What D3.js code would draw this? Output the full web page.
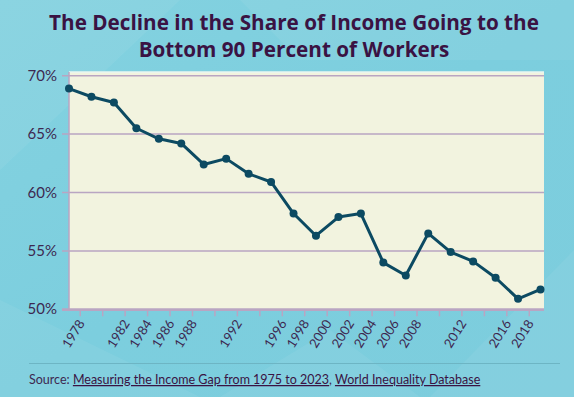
<!DOCTYPE html>
<html>
<head>
<meta charset="utf-8">
<script src="https://cdn.jsdelivr.net/npm/d3@7"></script>
<style>
  html, body { margin: 0; padding: 0; }
  body { width: 574px; height: 397px; overflow: hidden; }
</style>
</head>
<body>
<div id="chart"></div>
<script>
// adatok: also 90% jovedelemreszesedese (%)
const years = [1977, 1979, 1981, 1983, 1985, 1987, 1989, 1991, 1993, 1995, 1997,
               1999, 2001, 2003, 2005, 2007, 2009, 2011, 2013, 2015, 2017, 2019];
const shares = [68.9, 68.2, 67.7, 65.5, 64.6, 64.2, 62.4, 62.9, 61.6, 60.9, 58.2,
                56.3, 57.9, 58.2, 54.0, 52.9, 56.5, 54.9, 54.1, 52.7, 50.9, 51.7];
const tickYears = [1978, 1980, 1982, 1984, 1986, 1988, 1990, 1992, 1994, 1996, 1998,
                   2000, 2002, 2004, 2006, 2008, 2010, 2012, 2014, 2016, 2018];
const labelYears = [1978, 1982, 1984, 1986, 1988, 1992, 1996, 1998, 2000, 2002,
                    2004, 2006, 2008, 2012, 2016, 2018];
const yTicks = [50, 55, 60, 65, 70];
const titleLines = ["The Decline in the Share of Income Going to the", "Bottom 90 Percent of Workers"];

const width = 574, height = 397;
const plotLeft = 69, plotRight = 544, plotTop = 72, plotBottom = 309;
const fontMain = "Lato, 'Open Sans', sans-serif";
const textColor = "#3d2850";

const svg = d3.select("#chart").append("svg")
  .attr("width", width)
  .attr("height", height);

// hatter: teal szinatmenet
const defs = svg.append("defs");
const grad = defs.append("linearGradient")
  .attr("id", "bg").attr("x1", 0).attr("y1", 0).attr("x2", 1).attr("y2", 1);
grad.append("stop").attr("offset", "0%").attr("stop-color", "#84d2e0");
grad.append("stop").attr("offset", "50%").attr("stop-color", "#7ccede");
grad.append("stop").attr("offset", "100%").attr("stop-color", "#7dcddd");
svg.append("rect").attr("width", width).attr("height", height).attr("fill", "url(#bg)");

// halvany atlos foltok
const shapes = [
  [[0, 0], [180, 0], [0, 170]],
  [[0, 300], [200, 397], [0, 397]],
  [[240, 0], [574, 0], [574, 60], [300, 60]],
  [[430, 397], [574, 250], [574, 397]],
  [[220, 397], [330, 330], [420, 397]]
];
svg.selectAll("polygon.deco")
  .data(shapes)
  .enter()
  .append("polygon")
  .attr("class", "deco")
  .attr("points", d => d.map(p => p.join(",")).join(" "))
  .attr("fill", "#ffffff")
  .attr("opacity", 0.06);

// cim
const title = svg.append("g").selectAll("text")
  .data(titleLines)
  .enter()
  .append("text")
  .attr("x", 294)
  .attr("y", (d, i) => 30 + i * 27)
  .attr("text-anchor", "middle")
  .attr("font-family", "'Open Sans', Lato, sans-serif")
  .attr("font-weight", 700)
  .attr("font-size", "20px")
  .attr("fill", "#3a1343")
  .text(d => d);
// betumeret igazitasa az elso sor szelessegehez (~493px)
const w0 = title.node().getComputedTextLength();
title.attr("font-size", Math.min(21, 20 * 490 / w0) + "px");

// skalak
const x = d3.scaleLinear().domain([1977, 2019]).range([69, 540.5]);
const y = d3.scaleLinear().domain([50, 70]).range([309.3, 75.7]);

// rajzterulet
svg.append("rect")
  .attr("x", plotLeft)
  .attr("y", plotTop)
  .attr("width", plotRight - plotLeft)
  .attr("height", plotBottom - plotTop)
  .attr("fill", "#f2f3df");
svg.append("line")
  .attr("x1", plotLeft).attr("x2", plotRight)
  .attr("y1", plotTop).attr("y2", plotTop)
  .attr("stroke", "#e8f6f2").attr("stroke-width", 1.5);

// y racs
const gy = svg.append("g");
gy.selectAll("line")
  .data(yTicks)
  .enter()
  .append("line")
  .attr("x1", 62)
  .attr("x2", plotRight)
  .attr("y1", d => y(d))
  .attr("y2", d => y(d))
  .attr("stroke", "#b9a5c2")
  .attr("stroke-width", 1.5);
gy.selectAll("text")
  .data(yTicks)
  .enter()
  .append("text")
  .attr("x", 57)
  .attr("y", d => y(d) + 5)
  .attr("text-anchor", "end")
  .attr("font-family", fontMain)
  .attr("font-size", "15px")
  .attr("fill", textColor)
  .text(d => d + "%");

// tengelyvonalak
svg.append("line")
  .attr("x1", plotLeft).attr("x2", plotLeft)
  .attr("y1", plotTop).attr("y2", plotBottom)
  .attr("stroke", "#b9a5c2").attr("stroke-width", 1.5);
svg.append("line")
  .attr("x1", 62).attr("x2", plotRight)
  .attr("y1", y(50) + 0.5).attr("y2", y(50) + 0.5)
  .attr("stroke", "#b9a5c2").attr("stroke-width", 2.5);

// x tickek
const gx = svg.append("g");
gx.selectAll("line")
  .data(tickYears)
  .enter()
  .append("line")
  .attr("x1", d => x(d))
  .attr("x2", d => x(d))
  .attr("y1", y(50))
  .attr("y2", y(50) + 7)
  .attr("stroke", "#b9a5c2")
  .attr("stroke-width", 1.5);
gx.selectAll("text")
  .data(labelYears)
  .enter()
  .append("text")
  .attr("transform", d => "translate(" + (x(d) + 5) + "," + (y(50) + 14) + ") rotate(-58)")
  .attr("text-anchor", "end")
  .attr("font-family", fontMain)
  .attr("font-size", "13px")
  .attr("fill", textColor)
  .text(d => d);

// vonal + pontok
const pts = years.map((yr, i) => [yr, shares[i]]);
const line = d3.line().x(d => x(d[0])).y(d => y(d[1]));
svg.append("path")
  .datum(pts)
  .attr("d", line)
  .attr("fill", "none")
  .attr("stroke", "#0c4a62")
  .attr("stroke-width", 3)
  .attr("stroke-linejoin", "round");
svg.append("g").selectAll("circle")
  .data(pts)
  .enter()
  .append("circle")
  .attr("cx", d => x(d[0]))
  .attr("cy", d => y(d[1]))
  .attr("r", 4)
  .attr("fill", "#0c4a62");

// forras
svg.append("line")
  .attr("x1", 29).attr("x2", 560)
  .attr("y1", 363.5).attr("y2", 363.5)
  .attr("stroke", "#6db5c4").attr("stroke-width", 1);
const src = svg.append("text")
  .attr("x", 29)
  .attr("y", 384)
  .attr("font-family", fontMain)
  .attr("font-size", "12.5px")
  .attr("fill", textColor);
src.append("tspan").text("Source: ");
src.append("tspan")
  .attr("text-decoration", "underline")
  .attr("fill", "#3a1343")
  .text("Measuring the Income Gap from 1975 to 2023");
src.append("tspan").text(", ");
src.append("tspan")
  .attr("text-decoration", "underline")
  .attr("fill", "#3a1343")
  .text("World Inequality Database");
</script>
</body>
</html>
